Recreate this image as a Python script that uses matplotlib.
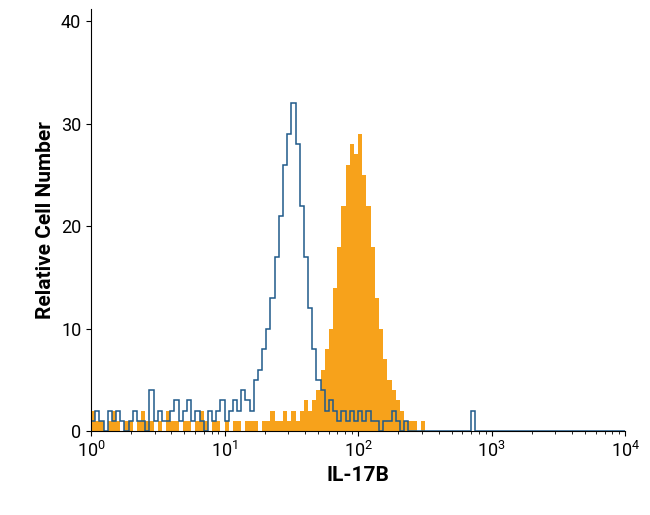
import numpy as np
import matplotlib
matplotlib.use("Agg")
import matplotlib.pyplot as plt

# 128 channels over 4 decades (32 per decade)
blue_counts = [1,2,1,0,2,1,2,1,0,1,2,1,1,0,4,1,2,1,1,2,3,1,2,3,1,2,1,0,2,1,2,3,
               1,2,3,2,4,3,2,5,6,8,10,13,17,21,26,29,32,28,22,17,12,8,5,4,2,3,2,1,2,1,2,1,
               2,1,2,1,1,0,1,1,2,1,0,1,0,0,0,0,0,0,0,0,0,0,0,0,0,0,0,2,0,0,0,0,
               0,0,0,0,0,0,0,0,0,0,0,0,0,0,0,0,0,0,0,0,0,0,0,0,0,0,0,0,0,0,0,0]
orange_counts = [2,1,1,0,1,2,1,0,1,1,0,1,2,1,1,0,1,0,2,1,1,0,1,1,0,1,2,1,0,1,1,0,
                 1,0,1,1,0,1,1,1,0,1,1,2,1,1,2,1,2,1,2,3,2,3,4,6,8,10,14,18,22,26,28,27,
                 29,25,22,18,13,10,7,5,4,3,2,1,1,1,0,1,0,0,0,0,0,0,0,0,0,0,0,0,0,0,0,0,
                 0,0,0,0,0,0,0,0,0,0,0,0,0,0,0,0,0,0,0,0,0,0,0,0,0,0,0,0,0,0,0,0]
edges = np.logspace(0, 4, len(blue_counts) + 1)

plt.rcParams['font.family'] = ['Roboto', 'DejaVu Sans']
fig = plt.figure(figsize=(6.5, 5.15), dpi=100)
ax = fig.add_axes([0.14, 0.163, 0.822, 0.82])
ax.stairs(orange_counts, edges, fill=True, color='#f7a21b')
ax.stairs(blue_counts, edges, color='#1f5a8a', linewidth=1.1)
ax.set_xscale('log')
ax.set_xlim(1, 1e4)
ax.set_ylim(0, 41.2)
ax.set_yticks([0, 10, 20, 30, 40])
for s in ['top', 'right']:
    ax.spines[s].set_visible(False)
ax.tick_params(labelsize=13)
ax.set_xlabel('IL-17B', fontsize=15, fontweight='bold')
ax.set_ylabel('Relative Cell Number', fontsize=15, fontweight='bold')
fig.savefig('out.png')
